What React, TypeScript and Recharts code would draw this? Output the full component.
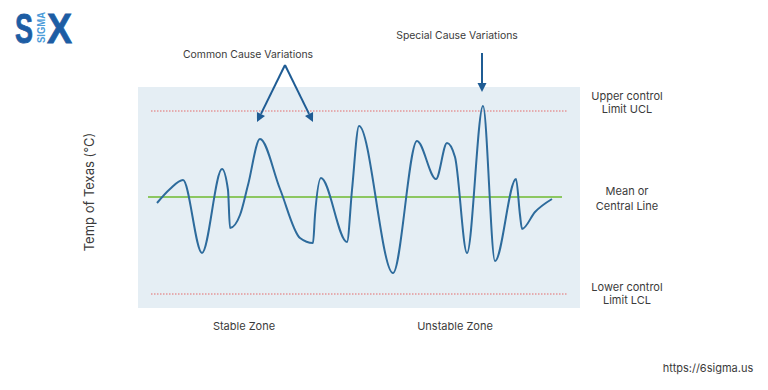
import { LineChart, Line, XAxis, YAxis, ReferenceLine, ReferenceArea } from 'recharts';

// time index along the run, temperature reading (chart units)
const timeSteps = [19, 32, 45, 64, 84, 90, 92, 102, 110, 122, 142, 162, 175, 177, 183, 209, 214, 221, 255, 279, 298, 309, 317, 329, 345, 357, 378, 382, 384, 397, 414];
const temps = [105, 119, 128, 55, 139, 118, 80, 93, 123, 169, 119, 70, 65, 93, 130, 66, 118, 182, 35, 167, 129, 165, 151, 55, 202, 47, 129, 93, 79, 96, 109];

const ucl = 197;
const centerLine = 111;
const lcl = 14;
const limitSpan = [13, 429];
const centerSpan = [10, 424];

const zoneLabels = ['Stable Zone', 'Unstable Zone'];

const data = timeSteps.map((t, i) => ({ t, temp: temps[i] }));

const TEXT = '#3b3b3b';
const ARROW = '#1f5c94';

const Arrow = (props: any) => {
    const { x1, y1, x2, y2 } = props;
    const a = Math.atan2(y2 - y1, x2 - x1);
    const len = 9;
    const half = 4.5;
    const bx = x2 - len * Math.cos(a);
    const by = y2 - len * Math.sin(a);
    const px = -Math.sin(a) * half;
    const py = Math.cos(a) * half;
    return (
        <g>
            <line x1={x1} y1={y1} x2={bx} y2={by} stroke={ARROW} strokeWidth={2} />
            <polygon points={`${x2},${y2} ${bx + px},${by + py} ${bx - px},${by - py}`} fill={ARROW} />
        </g>
    );
};

const sideLabel = (lines: string[], offsets: number[]) => (props: any) => {
    const y = props.viewBox.y;
    return (
        <g>
            {lines.map((l, i) => (
                <text key={l} x={627} y={y + offsets[i]} textAnchor="middle" dominantBaseline="middle" fontSize={11} fill={TEXT} fontFamily="Inter, sans-serif">
                    {l}
                </text>
            ))}
        </g>
    );
};

const abs = (left: number, top: number, extra: any = {}) => ({
    position: 'absolute' as const,
    left,
    top,
    transform: 'translate(-50%, -50%)',
    whiteSpace: 'nowrap' as const,
    fontSize: 11,
    color: TEXT,
    ...extra,
});

export default function App() {
    return (
        <div style={{ position: 'absolute', left: 0, top: 0, width: 768, height: 390, background: '#fff', fontFamily: 'Inter, sans-serif' }}>
            <LineChart width={768} height={390} data={data} margin={{ top: 87, right: 188, bottom: 82, left: 138 }}>
                <XAxis type="number" dataKey="t" domain={[0, 442]} hide />
                <YAxis type="number" domain={[0, 221]} hide />
                <ReferenceArea x1={0} x2={442} y1={0} y2={221} fill="#e5eef4" fillOpacity={1} stroke="none" />
                <ReferenceLine
                    segment={[{ x: limitSpan[0], y: ucl }, { x: limitSpan[1], y: ucl }]}
                    stroke="#e46a6a"
                    strokeDasharray="1.5 1.5"
                    label={sideLabel(['Upper control', 'Limit UCL'], [-14, -1])}
                />
                <ReferenceLine
                    segment={[{ x: centerSpan[0], y: centerLine }, { x: centerSpan[1], y: centerLine }]}
                    stroke="#8cc761"
                    strokeWidth={2}
                    label={sideLabel(['Mean or', 'Central Line'], [-5, 10])}
                />
                <ReferenceLine
                    segment={[{ x: limitSpan[0], y: lcl }, { x: limitSpan[1], y: lcl }]}
                    stroke="#e46a6a"
                    strokeDasharray="1.5 1.5"
                    label={sideLabel(['Lower control', 'Limit LCL'], [-6, 7])}
                />
                <ReferenceLine segment={[{ x: 147, y: 243 }, { x: 119, y: 186 }]} ifOverflow="visible" shape={Arrow} />
                <ReferenceLine segment={[{ x: 147, y: 243 }, { x: 175, y: 186 }]} ifOverflow="visible" shape={Arrow} />
                <ReferenceLine segment={[{ x: 344, y: 255 }, { x: 344, y: 216 }]} ifOverflow="visible" shape={Arrow} />
                <Line type="monotone" dataKey="temp" stroke="#2d6b9c" strokeWidth={2} dot={false} isAnimationActive={false} />
            </LineChart>

            <div style={abs(248, 54, { fontSize: 10.4 })}>Common Cause Variations</div>
            <div style={abs(457, 35, { fontSize: 10.4 })}>Special Cause Variations</div>
            <div style={abs(244, 326)}>{zoneLabels[0]}</div>
            <div style={abs(455, 326)}>{zoneLabels[1]}</div>
            <div style={abs(89, 192, { fontSize: 13, transform: 'translate(-50%, -50%) rotate(-90deg)' })}>Temp of Texas (°C)</div>
            <div style={abs(708, 368)}>https://6sigma.us</div>

            <svg width={90} height={60} style={{ position: 'absolute', left: 0, top: 0 }}>
                <text x={15} y={43} fontSize={42} fontWeight={700} fill="#1d5da4" stroke="#1d5da4" strokeWidth={0.8} textLength={18} lengthAdjust="spacingAndGlyphs" fontFamily="Liberation Sans, Arial, sans-serif">S</text>
                <text x={47} y={43} fontSize={42} fontWeight={700} fill="#1d5da4" stroke="#1d5da4" strokeWidth={0.8} textLength={25} lengthAdjust="spacingAndGlyphs" fontFamily="Liberation Sans, Arial, sans-serif">X</text>
                <text transform="translate(45,43) rotate(-90)" fontSize={11} fontWeight={700} fill="#4b9bd9" textLength={31} lengthAdjust="spacingAndGlyphs" fontFamily="Liberation Sans, Arial, sans-serif">SIGMA</text>
            </svg>
        </div>
    );
}
